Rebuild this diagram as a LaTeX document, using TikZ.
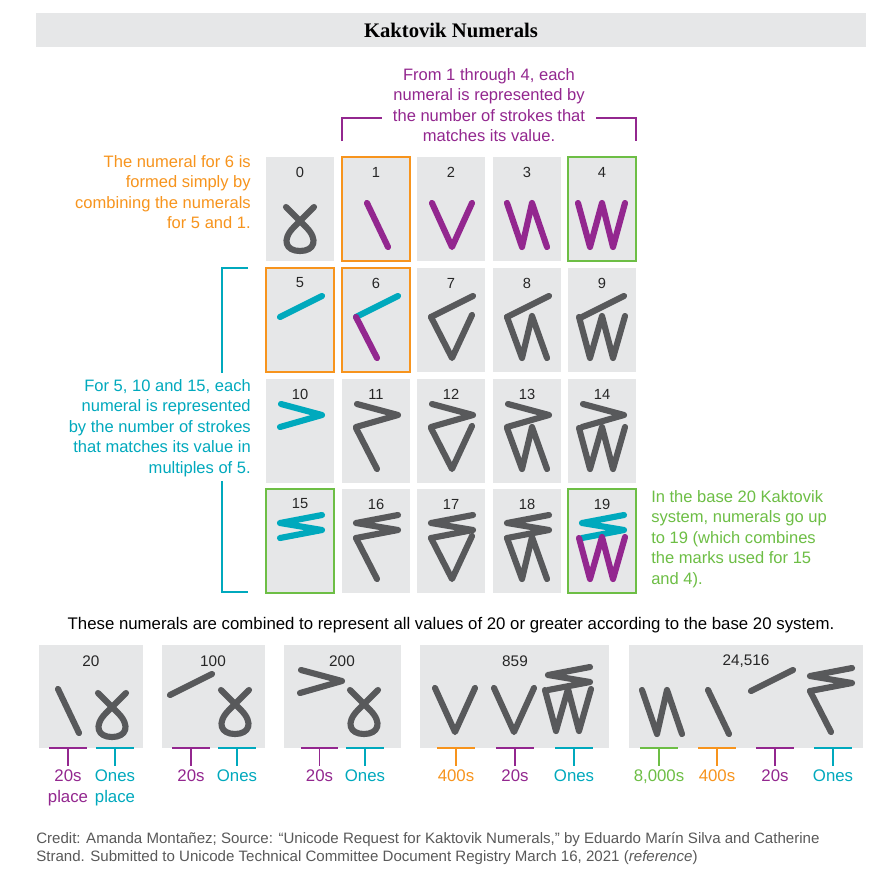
\documentclass[tikz,border=0pt]{standalone}
\usepackage{fontspec}
\setmainfont{Liberation Sans}
\newfontfamily\titlefont{Liberation Serif}
\definecolor{kpur}{HTML}{93278F}
\definecolor{kcya}{HTML}{00A9BD}
\definecolor{kora}{HTML}{F7941D}
\definecolor{kgre}{HTML}{6DBE45}
\definecolor{kgry}{HTML}{58595B}
\definecolor{kbg}{HTML}{E6E7E8}
\tikzset{gl/.style={line width=4.6pt,line cap=round,line join=round},
 frame/.style={line width=2.2pt},
 num/.style={font=\fontsize{11}{12}\selectfont,text=black!85},
 ann/.style={font=\fontsize{12.4}{15.4}\selectfont,inner sep=0pt},
 tick/.style={line width=2.2pt},
 stem/.style={line width=1pt},
 plab/.style={font=\fontsize{12.6}{15.5}\selectfont,align=center,anchor=north,inner sep=0pt}}
\newcommand\kak[6]{\begin{scope}[shift={(#1,#2)}]
\ifcase#3 \ifnum#4=0 \draw[gl,#5] (48,50) -- (28,70) .. controls (15,83) and (20,94) .. (34,94) .. controls (48,94) and (53,83) .. (40,70) -- (20,50);\fi
\or \draw[gl,#5] (56,28)--(14,49);
\or \draw[gl,#5] (15,25)--(56,36)--(14,48);
\or \draw[gl,#5] (56,26)--(14,34)--(56,41)--(14,49);
\fi
\ifnum#3=0
 \ifcase#4 \or \draw[gl,#6] (25,46)--(46,90);
 \or \draw[gl,#6] (15,46)--(35,90)--(55,46);
 \or \draw[gl,#6] (14,46)--(29,90)--(39,46)--(54,90);
 \or \draw[gl,#6] (10,46)--(22,90)--(34,46)--(45,90)--(57,46);
 \fi
\else
 \ifcase#4 \or \draw[gl,#6] (14,49)--(35,90);
 \or \draw[gl,#6] (14,49)--(35,90)--(55,47);
 \or \draw[gl,#6] (14,49)--(29,90)--(39,48)--(54,90);
 \or \draw[gl,#6] (11,49)--(22,90)--(34,48)--(45,90)--(57,48);
 \fi
\fi
\end{scope}}
\begin{document}
\begin{tikzpicture}[x=0.75pt,y=-0.75pt]
\useasboundingbox[fill=white] (0,0) rectangle (892,883);
% header
\fill[kbg] (36,13) rectangle (866,47);
\node[font=\titlefont\bfseries\fontsize{15.5}{17}\selectfont] (title) at (451,30) {Kaktovik Numerals};
% grid
\foreach \r/\ty in {0/157,1/268,2/379,3/489}{
 \foreach \c/\lx in {0/266,1/342,2/417,3/493,4/568}{
  \pgfmathtruncatemacro\n{\r*5+\c}
  \fill[kbg] (\lx,\ty) rectangle ++(68,104);
  \node[num] (n\n) at (\lx+34,\ty+15) {\n};
 }}
% glyphs
\kak{266}{157}{0}{0}{kgry}{kgry}
\kak{342}{157}{0}{1}{kpur}{kpur}
\kak{417}{157}{0}{2}{kpur}{kpur}
\kak{493}{157}{0}{3}{kpur}{kpur}
\kak{568}{157}{0}{4}{kpur}{kpur}
\kak{266}{268}{1}{0}{kcya}{kcya}
\kak{342}{268}{1}{1}{kcya}{kpur}
\kak{417}{268}{1}{2}{kgry}{kgry}
\kak{493}{268}{1}{3}{kgry}{kgry}
\kak{568}{268}{1}{4}{kgry}{kgry}
\kak{266}{379}{2}{0}{kcya}{kcya}
\kak{342}{379}{2}{1}{kgry}{kgry}
\kak{417}{379}{2}{2}{kgry}{kgry}
\kak{493}{379}{2}{3}{kgry}{kgry}
\kak{568}{379}{2}{4}{kgry}{kgry}
\kak{266}{489}{3}{0}{kcya}{kcya}
\kak{342}{489}{3}{1}{kgry}{kgry}
\kak{417}{489}{3}{2}{kgry}{kgry}
\kak{493}{489}{3}{3}{kgry}{kgry}
\kak{568}{489}{3}{4}{kcya}{kpur}
% frames
\draw[frame,kora] (342,157) rectangle ++(68,104);
\draw[frame,kora] (266,268) rectangle ++(68,104);
\draw[frame,kora] (342,268) rectangle ++(68,104);
\draw[frame,kgre] (568,157) rectangle ++(68,104);
\draw[frame,kgre] (266,489) rectangle ++(68,104);
\draw[frame,kgre] (568,489) rectangle ++(68,104);
% purple annotation
\node[ann,text=kpur,align=center,anchor=north] (pa) at (489,68) {From 1 through 4, each\\numeral is represented by\\the number of strokes that\\matches its value.};
\draw[kpur,line width=1pt] (342,141) -- (342,118) -- (382,118);
\draw[kpur,line width=1pt] (596,118) -- (636,118) -- (636,141);
% orange annotation
\node[ann,text=kora,align=right,anchor=north east] (oa) at (251,155) {The numeral for 6 is\\formed simply by\\combining the numerals\\for 5 and 1.};
% cyan annotation
\draw[kcya,line width=1pt] (248,268) -- (222,268) -- (222,373);
\draw[kcya,line width=1pt] (222,481) -- (222,592) -- (248,592);
\node[ann,text=kcya,align=right,anchor=north east] (ca) at (251,379) {For 5, 10 and 15, each\\numeral is represented\\by the number of strokes\\that matches its value in\\multiples of 5.};
% green annotation
\node[ann,text=kgre,align=left,anchor=north west] (ga) at (651,490) {In the base 20 Kaktovik\\system, numerals go up\\to 19 (which combines\\the marks used for 15\\and 4).};
% sentence
\node[font=\fontsize{12.6}{14}\selectfont] (sent) at (451,625) {These numerals are combined to represent all values of 20 or greater according to the base 20 system.};
% bottom boxes
\foreach \a/\b/\lab/\cx in {39/143/20/91,162/265/100/213,284/401/200/342,420/609/859/515,629/863/{24,516}/746}{
 \fill[kbg] (\a,645) rectangle (\b,748);
 \node[font=\fontsize{11.5}{13}\selectfont,text=black!85] at (\cx,661) {\lab};
}
\kak{33}{643}{0}{1}{kgry}{kgry}
\kak{78}{643}{0}{0}{kgry}{kgry}
\kak{156}{646}{1}{0}{kgry}{kgry}
\kak{201}{640}{0}{0}{kgry}{kgry}
\kak{286}{645}{2}{0}{kgry}{kgry}
\kak{330}{640}{0}{0}{kgry}{kgry}
\kak{420}{642}{0}{2}{kgry}{kgry}
\kak{479}{642}{0}{2}{kgry}{kgry}
\kak{534}{641}{3}{4}{kgry}{kgry}
\kak{628}{644}{0}{3}{kgry}{kgry}
\kak{683}{644}{0}{1}{kgry}{kgry}
\kak{737}{642}{1}{0}{kgry}{kgry}
\kak{796}{642}{3}{1}{kgry}{kgry}
% place markers
\foreach \a/\b/\col/\txt [count=\i] in {
 49/87/kpur/{20s\\place},96/134/kcya/{Ones\\place},
 172/210/kpur/20s,218/256/kcya/Ones,
 301/338/kpur/20s,346/384/kcya/Ones,
 437/475/kora/400s,496/534/kpur/20s,555/593/kcya/Ones,
 640/678/kgre/{8,000s},698/736/kora/400s,756/794/kpur/20s,814/852/kcya/Ones}{
 \draw[tick,\col] (\a,748) -- (\b,748);
 \coordinate (m\i) at ({(\a+\b)/2},748);
 \draw[stem,\col] (m\i) -- ++(0,18) coordinate (e\i);
 \node[plab,text=\col] (p\i) at ([yshift=-2.5pt]e\i) {\txt};
}
% credit
\node[anchor=north west,align=left,inner sep=0pt,text=black!65,font=\fontsize{11.3}{13.5}\selectfont] (cred) at (36,832) {Credit: Amanda Montañez; Source: “Unicode Request for Kaktovik Numerals,” by Eduardo Marín Silva and Catherine\\Strand. Submitted to Unicode Technical Committee Document Registry March 16, 2021 (\textit{reference})};
\end{tikzpicture}
\end{document}
